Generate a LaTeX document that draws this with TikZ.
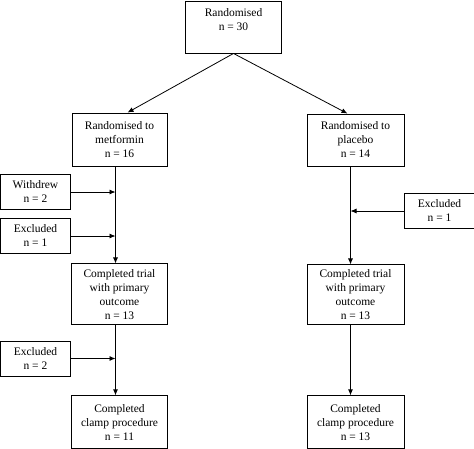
\documentclass[tikz,border=0pt]{standalone}
\usepackage{fontspec}
\setmainfont{Liberation Serif}
\usetikzlibrary{positioning,arrows.meta}
\tikzset{line/.style={draw, line width=0.8pt, -{Latex[length=6pt,width=5pt]}}}

\begin{document}
\begin{tikzpicture}[x=1pt, y=-1pt, font=\fontsize{11.5}{14}\selectfont]
\tikzstyle{block} = [rectangle, draw, line width=0.9pt, align=center, minimum width=96pt, inner sep=2pt]
\tikzstyle{side} = [rectangle, draw, line width=0.9pt, align=center, minimum width=70pt, minimum height=35pt, inner sep=2pt]

\useasboundingbox (0,0) rectangle (474,448);

\node [block, minimum height=52pt, text depth=14pt] (rand) at (233.5,27) {Randomised\\n = 30};
\node [block, minimum height=53pt, minimum width=95pt] (metf) at (119.5,139.5) {Randomised to\\metformin\\n = 16};
\node [block, minimum height=52pt, minimum width=97pt] (plac) at (355.5,140) {Randomised to\\placebo\\n = 14};
\node [block, minimum height=61pt, below=97pt of metf] (compL) {Completed trial\\with primary\\outcome\\n = 13};
\node [block, minimum height=60pt, minimum width=97pt, below=98pt of plac] (compR) {Completed trial\\with primary\\outcome\\n = 13};
\node [block, minimum height=53pt, below=70pt of compL] (clampL) {Completed\\clamp procedure\\n = 11};
\node [block, minimum height=53pt, minimum width=97pt, below=70pt of compR] (clampR) {Completed\\clamp procedure\\n = 13};

\node [side] (withdrew) at (35.5,192) {Withdrew\\n = 2};
\node [side] (excl1) at (35.5,236) {Excluded\\n = 1};
\node [side] (excl2) at (35.5,358.5) {Excluded\\n = 2};
\node [side] (exclR) at (439.5,211) {Excluded\\n = 1};

\coordinate (lcol) at ([xshift=-4pt]metf.south);
\coordinate (rcol) at ([xshift=-5pt]plac.south);

\path [line] (rand.south) -- ([xshift=8pt]metf.north);
\path [line] (rand.south) -- ([xshift=-8pt]plac.north);
\path [line] (lcol) -- (lcol|-compL.north);
\path [line] (rcol) -- (rcol|-compR.north);
\path [line] (lcol|-compL.south) -- (lcol|-clampL.north);
\path [line] (rcol|-compR.south) -- (rcol|-clampR.north);
\path [line] (withdrew) -- (withdrew-|lcol);
\path [line] (excl1) -- (excl1-|lcol);
\path [line] (excl2) -- (excl2-|lcol);
\path [line] (exclR) -- (exclR-|rcol);

\end{tikzpicture}
\end{document}
